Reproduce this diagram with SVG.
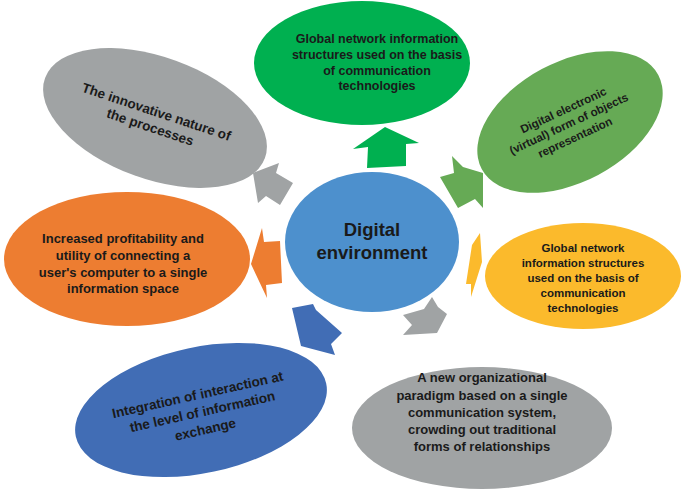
<svg xmlns="http://www.w3.org/2000/svg" width="685" height="489" viewBox="0 0 685 489">
<style>
text{font-family:"Liberation Sans",Arial,sans-serif;font-weight:bold;fill:#1a1a1a;text-anchor:middle}
.gray{fill:#A0A3A4}
.t13{font-size:13px}
</style>
<rect width="685" height="489" fill="#ffffff"/>
<g id="connectors">
<polygon fill="#00B050" points="385,127 353,149 368,147 367,168 406,166 406,144 419,143"/>
<polygon class="gray" points="253,173 279,163 276,173 293,183 280,205 266,196 258,203"/>
<polygon fill="#ED7D31" points="251,264 262,228 264,242 280,241 282,283 266,285 267,298"/>
<polygon fill="#416DB5" points="292,308 313,304 316,310 342,333 331,344 335,355 301,346"/>
<polygon class="gray" points="432,297 438,307 447,314 437,333 403,335 412,325 403,315 424,309"/>
<polygon fill="#FBBA2C" points="480,233 482,262 471,297 471,284 466,284 472,245"/>
<polygon fill="#66AA55" points="452,156 463,167 483,173 483,208 475,199 458,208 440,177 454,173"/>
</g>
<g id="center">
<ellipse cx="372" cy="242" rx="87" ry="70" fill="#4D90CD"/>
<text x="372" y="236" font-size="18.5">Digital</text>
<text x="372" y="259" font-size="18.5">environment</text>
</g>
<g id="top">
<ellipse cx="362" cy="63" rx="108" ry="62" fill="#00B050"/>
<text x="377" y="43" font-size="12.5">Global network information</text>
<text x="377" y="59" font-size="12.5">structures used on the basis</text>
<text x="377" y="75" font-size="12.5">of communication</text>
<text x="377" y="90" font-size="12.5">technologies</text>
</g>
<g id="topleft">
<ellipse cx="155" cy="118" rx="117" ry="61" transform="rotate(20 155 118)" class="gray"/>
<g transform="translate(154 119) rotate(18.5)">
<text x="0" y="-3" font-size="13.5">The innovative nature of</text>
<text x="-1" y="13.5" font-size="13.5">the processes</text>
</g>
</g>
<g id="topright">
<ellipse cx="570" cy="122" rx="100" ry="60" transform="rotate(-28 570 122)" fill="#66AA55"/>
<g transform="translate(570 122) rotate(-25)">
<text x="-1" y="-9.5" font-size="11.6">Digital electronic</text>
<text x="-2" y="5" font-size="11.6">(virtual) form of objects</text>
<text x="-2" y="20" font-size="11.6">representation</text>
</g>
</g>
<g id="right">
<ellipse cx="583" cy="276" rx="98" ry="53" fill="#FBBA2C"/>
<text x="583" y="252" font-size="11.5">Global network</text>
<text x="583" y="267" font-size="11.5">information structures</text>
<text x="583" y="282" font-size="11.5">used on the basis of</text>
<text x="583" y="297" font-size="11.5">communication</text>
<text x="583" y="312" font-size="11.5">technologies</text>
</g>
<g id="bottomright">
<ellipse cx="482" cy="428" rx="130" ry="61" class="gray"/>
<text x="482" y="382" class="t13">A new organizational</text>
<text x="482" y="400" class="t13">paradigm based on a single</text>
<text x="482" y="417" class="t13">communication system,</text>
<text x="482" y="434" class="t13">crowding out traditional</text>
<text x="482" y="451" class="t13">forms of relationships</text>
</g>
<g id="bottomleft">
<ellipse cx="201" cy="410" rx="128" ry="63" transform="rotate(-12 201 410)" fill="#416DB5"/>
<g transform="translate(201 410) rotate(-12.5)">
<text x="0" y="-11" font-size="13.5">Integration of interaction at</text>
<text x="1" y="6.5" font-size="13.5">the level of information</text>
<text x="0" y="24.5" font-size="13.5">exchange</text>
</g>
</g>
<g id="left">
<ellipse cx="127" cy="259" rx="123" ry="67" fill="#ED7D31"/>
<text x="123" y="243" class="t13">Increased profitability and</text>
<text x="123" y="260" class="t13">utility of connecting a</text>
<text x="123" y="277" class="t13">user's computer to a single</text>
<text x="123" y="293" class="t13">information space</text>
</g>
</svg>
